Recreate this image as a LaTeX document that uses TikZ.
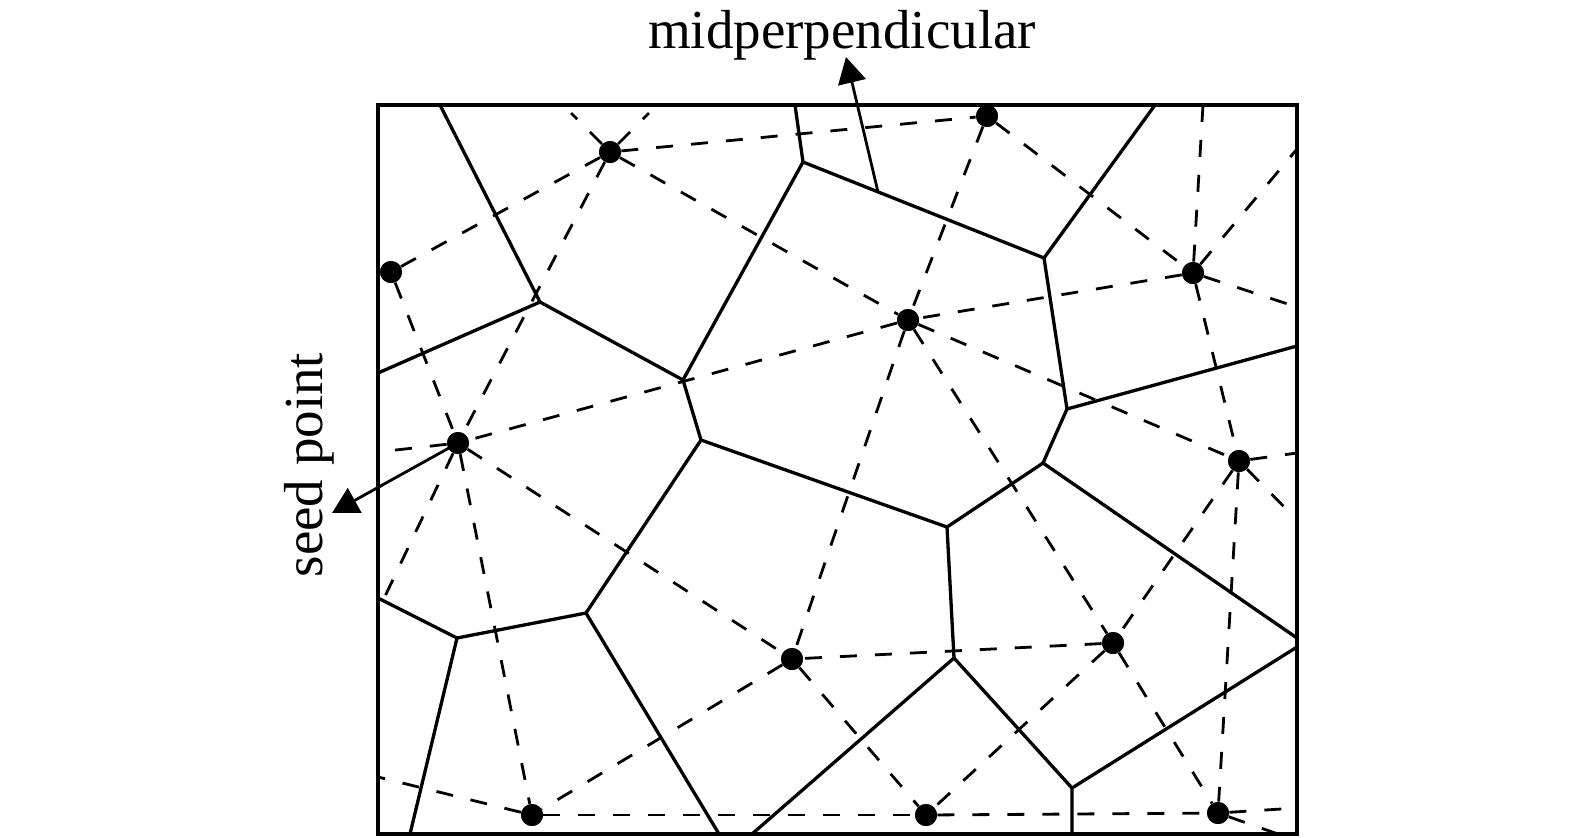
\documentclass[tikz,border=0pt]{standalone}
\usepackage{fontspec}
\setmainfont{Liberation Serif}
\usetikzlibrary{arrows.meta}
\begin{document}
\begin{tikzpicture}[x=0.5pt,y=-0.5pt,
  edge/.style={line width=1.65pt},
  frame/.style={line width=1.75pt},
  tri/.style={line width=1.4pt, dash pattern=on 8.5pt off 9pt},
  seed/.style={circle, fill=black, draw=none, inner sep=0pt, minimum size=11pt},
  lbl/.style={font=\fontsize{27.5}{33}\selectfont, inner sep=0pt},
  pointer/.style={line width=1.4pt, -{Triangle[length=13pt,width=14pt]}}]
\useasboundingbox (0,0) rectangle (1575,837);
% frame corners
\coordinate (tl) at (378,105);
\coordinate (br) at (1297,834);
% seeds
\node[seed] (s1) at (610,152) {};
\node[seed] (s2) at (987,116) {};
\node[seed] (s3) at (391,272) {};
\node[seed] (s4) at (1193,273) {};
\node[seed] (s5) at (908,320) {};
\node[seed] (s6) at (458,443) {};
\node[seed] (s7) at (1239,461) {};
\node[seed] (s8) at (1113,643) {};
\node[seed] (s9) at (792,659) {};
\node[seed] (s10) at (532,815) {};
\node[seed] (s11) at (926,815) {};
\node[seed] (s12) at (1218,813) {};
% outward ends of dashed lines
\coordinate (o1) at (571,113);
\coordinate (o2) at (649,113);
\coordinate (o3) at (1203,105);
\coordinate (o4) at (1297,149);
\coordinate (o5) at (1297,307);
\coordinate (o6) at (378,452);
\coordinate (o7) at (378,611);
\coordinate (o8) at (1297,453);
\coordinate (o9) at (1297,520);
\coordinate (o10) at (378,777);
\coordinate (o11) at (1297,808);
\coordinate (o12) at (1278,834);
% Voronoi vertices
\coordinate (A) at (540,302);
\coordinate (B) at (683,380);
\coordinate (C) at (803,162);
\coordinate (D) at (1044,258);
\coordinate (E) at (1067,409);
\coordinate (F) at (1043,463);
\coordinate (G) at (947,527);
\coordinate (H) at (701,440);
\coordinate (I) at (586,613);
\coordinate (J) at (457,638);
\coordinate (K) at (954,658);
\coordinate (L) at (1072,788);
% Voronoi ends on the frame
\coordinate (a1) at (440,105);
\coordinate (a2) at (378,373);
\coordinate (c1) at (795,105);
\coordinate (d1) at (1155,105);
\coordinate (e1) at (1297,346);
\coordinate (f1) at (1297,638);
\coordinate (l1) at (1297,647);
\coordinate (l2) at (1072,834);
\coordinate (k1) at (752,834);
\coordinate (i1) at (719,834);
\coordinate (j1) at (410,834);
\coordinate (j2) at (378,598);
% Delaunay (dashed)
\draw[tri] (s1) -- (s2);
\draw[tri] (s1) -- (s3);
\draw[tri] (s1) -- (s5);
\draw[tri] (s1) -- (s6);
\draw[tri] (s1) -- (o1);
\draw[tri] (s1) -- (o2);
\draw[tri] (s2) -- (s5);
\draw[tri] (s2) -- (s4);
\draw[tri] (s3) -- (s6);
\draw[tri] (s4) -- (s5);
\draw[tri] (s4) -- (s7);
\draw[tri] (s4) -- (o3);
\draw[tri] (s4) -- (o4);
\draw[tri] (s4) -- (o5);
\draw[tri] (s5) -- (s6);
\draw[tri] (s5) -- (s9);
\draw[tri] (s5) -- (s8);
\draw[tri] (s5) -- (s7);
\draw[tri] (s6) -- (o6);
\draw[tri] (s6) -- (o7);
\draw[tri] (s6) -- (s10);
\draw[tri] (s6) -- (s9);
\draw[tri] (s7) -- (o8);
\draw[tri] (s7) -- (o9);
\draw[tri] (s7) -- (s8);
\draw[tri] (s7) -- (s12);
\draw[tri] (s8) -- (s9);
\draw[tri] (s8) -- (s11);
\draw[tri] (s8) -- (s12);
\draw[tri] (s9) -- (s10);
\draw[tri] (s9) -- (s11);
\draw[tri] (s10) -- (s11);
\draw[tri] (s10) -- (o10);
\draw[tri] (s11) -- (s12);
\draw[tri] (s12) -- (o11);
\draw[tri] (s12) -- (o12);
% Voronoi (solid)
\draw[edge] (a1) -- (A) -- (a2);
\draw[edge] (A) -- (B) -- (C) -- (c1);
\draw[edge] (C) -- (D) -- (d1);
\draw[edge] (D) -- (E) -- (e1);
\draw[edge] (E) -- (F) -- (f1);
\draw[edge] (F) -- (G) -- (H) -- (B);
\draw[edge] (H) -- (I) -- (J) -- (j2);
\draw[edge] (J) -- (j1);
\draw[edge] (I) -- (i1);
\draw[edge] (G) -- (K) -- (k1);
\draw[edge] (K) -- (L) -- (l2);
\draw[edge] (L) -- (l1);
% frame
\draw[frame] (tl) rectangle (br);
% seeds drawn on top
\foreach \s in {s1,s2,s3,s4,s5,s6,s7,s8,s9,s10,s11,s12}
  \fill (\s.center) circle (5.5pt);
% labels and pointers
\coordinate (mp) at (878,192);
\coordinate (mptip) at (846,57);
\draw[pointer] (mp) -- (mptip);
\node[lbl, anchor=base] (mlabel) at (842,48) {midperpendicular};
\coordinate (sptip) at (332,513);
\draw[pointer] (s6.center) -- (sptip);
\node[lbl, anchor=base, rotate=90] (slabel) at (322,465) {seed point};
\end{tikzpicture}
\end{document}
